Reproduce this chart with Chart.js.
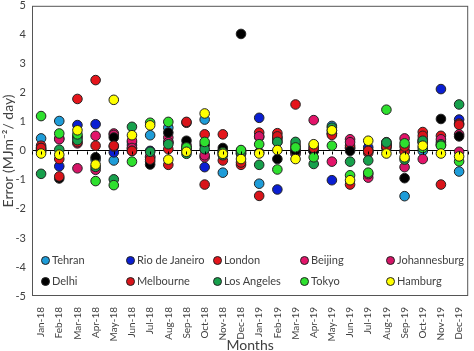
<!DOCTYPE html>
<html>
<head>
<meta charset="utf-8">
<script src="https://cdn.jsdelivr.net/npm/chart.js@4.4.1/dist/chart.umd.min.js"></script>
<style>
  html, body { margin: 0; padding: 0; background: #fff; }
  #wrap { position: relative; width: 474px; height: 351px; }
  #legend { position: absolute; left: 0; top: 0; width: 474px; height: 351px; pointer-events: none;
            font-family: Lato, "Open Sans", sans-serif; font-size: 11px; color: #404040; }
  .item { position: absolute; white-space: nowrap; line-height: 14px; }
  .dot { display: inline-block; width: 7px; height: 7px; border-radius: 50%; border: 1px solid #222;
         vertical-align: -1px; margin-right: 2px; }
</style>
</head>
<body>
<div id="wrap">
  <canvas id="chart" width="474" height="351"></canvas>
  <div id="legend"></div>
</div>
<script>
const months = ['Jan-18', 'Feb-18', 'Mar-18', 'Apr-18', 'May-18', 'Jun-18', 'Jul-18', 'Aug-18',
    'Sep-18', 'Oct-18', 'Nov-18', 'Dec-18', 'Jan-19', 'Feb-19', 'Mar-19', 'Apr-19', 'May-19',
    'Jun-19', 'Jul-19', 'Aug-19', 'Sep-19', 'Oct-19', 'Nov-19', 'Dec-19'];

const cities = ['Tehran', 'Rio de Janeiro', 'London', 'Beijing', 'Johannesburg',
    'Delhi', 'Melbourne', 'Los Angeles', 'Tokyo', 'Hamburg'];
const cityColors = ['#1e9cd8', '#0a1ed2', '#e5151b', '#e3146a', '#d41567',
    '#000000', '#d9141a', '#17a04c', '#2ee02e', '#ffff00'];

// error values (MJ m-2 / day), one array per city, Jan-18 .. Dec-19
const tehran       = [0.43, 1.03, 0.45, -0.3, -0.33, 0.3, 0.54, 0.8, 0.1, 1.08, -0.75, -0.1, -1.13, 0.31, 0.0, 0.0, 0.86, 0.1, 0.0, 0.2, -1.56, 0.0, 0.2, -0.71];
const rio          = [0.0, -0.53, 0.89, 0.92, -0.05, 0.2, 0.0, 0.3, 0.0, -0.56, 0.0, 0.0, 1.14, -1.33, 0.1, 0.0, -1.01, 0.1, 0.12, 0.2, 0.0, 0.3, 2.13, 1.08];
const london       = [0.18, -0.28, 1.79, 2.44, 0.15, 0.09, -0.37, 0.06, 0.97, 0.57, 0.57, -0.48, 0.63, 0.61, 1.6, 0.2, 0.6, 0.18, -0.07, 0.18, -0.03, 0.65, 0.52, 0.94];
const beijing      = [0.05, 0.43, 0.26, 0.52, 0.6, 0.35, -0.22, 0.46, 0.2, -0.22, 0.0, 0.0, 0.48, 0.46, -0.11, 1.06, -0.37, 0.4, -0.92, 0.3, 0.43, -0.28, 0.3, 0.57];
const johannesburg = [0.1, 0.4, -0.6, -0.65, 0.55, 0.1, -0.2, 0.3, 0.1, -0.15, -0.1, -0.1, 0.5, 0.4, -0.05, 0.1, 0.6, 0.3, -0.8, 0.25, -0.56, 0.4, 0.4, -0.03];
const delhi        = [0.0, -0.95, 0.5, -0.22, 0.46, 0.0, -0.47, 0.63, 0.35, 0.2, 0.1, 4.03, -0.05, -0.28, 0.0, 0.0, 0.7, 0.0, 0.0, 0.1, -0.94, 0.3, 1.1, 0.5];
const melbourne    = [0.1, -0.88, 0.3, 0.18, 0.18, 0.0, -0.3, -0.48, 1.0, -1.16, -0.33, -0.4, -1.55, 0.5, 0.2, 0.1, 0.55, -1.16, 0.0, 0.15, 0.15, 0.52, -1.16, 0.9];
const losAngeles   = [-0.79, 0.04, 0.37, -0.55, -0.98, 0.83, -0.03, 0.23, -0.1, 0.06, -0.15, -0.05, -0.48, 0.31, 0.31, -0.45, 0.8, -0.37, -0.33, 0.29, -0.3, 0.35, 0.23, 1.6];
const tokyo        = [1.2, 0.6, 0.57, -1.04, -1.18, -0.37, 0.97, 1.0, 0.12, 0.31, -0.05, 0.03, 0.23, -0.64, 0.12, -0.22, 0.18, -0.84, -0.75, 1.42, 0.26, 0.1, 0.18, -0.36];
const hamburg      = [-0.09, -0.13, 0.71, -0.47, 1.76, 0.54, 0.88, -0.3, -0.03, 1.29, -0.1, -0.28, -0.09, 0.03, -0.28, 0.23, 0.71, -1.01, 0.35, -0.09, -0.22, 0.18, -0.09, -0.19];

const seriesValues = [tehran, rio, london, beijing, johannesburg, delhi, melbourne, losAngeles, tokyo, hamburg];
const yTicks = [-5, -4, -3, -2, -1, 0, 1, 2, 3, 4, 5];

const FONT = 'Lato, "Open Sans", sans-serif';
const TEXT = '#404040';

// box round the plot and little tick marks hanging off the zero line
const framePlugin = {
    id: 'frame',
    afterDatasetsDraw(chart) {
        const { ctx, chartArea: a, scales } = chart;
        ctx.save();
        ctx.strokeStyle = '#555';
        ctx.lineWidth = 1;
        ctx.strokeRect(a.left + 0.5, a.top + 0.5, a.right - a.left - 1, a.bottom - a.top - 1);
        const y0 = Math.round(scales.y.getPixelForValue(0)) + 0.5;
        ctx.strokeStyle = '#000';
        ctx.beginPath();
        for (let i = 0; i <= months.length * 2; i++) {
            const x = Math.round(scales.x.getPixelForValue(i / 2 - 0.5)) + 0.5;
            ctx.moveTo(x, y0);
            ctx.lineTo(x, y0 + 3);
        }
        ctx.stroke();
        ctx.restore();
    }
};

const datasets = cities.map((name, i) => ({
    label: name,
    data: seriesValues[i],
    showLine: false,
    pointStyle: 'circle',
    pointRadius: 4.8,
    pointHoverRadius: 4.8,
    pointBackgroundColor: cityColors[i],
    pointBorderColor: '#222',
    pointBorderWidth: 1,
    order: cities.length - i
}));

new Chart(document.getElementById('chart'), {
    type: 'line',
    data: { labels: months, datasets: datasets },
    plugins: [framePlugin],
    options: {
        responsive: false,
        animation: false,
        layout: { padding: { top: 4, right: 2, left: 0, bottom: 0 } },
        plugins: { legend: { display: false }, tooltip: { enabled: false } },
        scales: {
            x: {
                type: 'category',
                offset: true,
                grid: { display: false },
                border: { display: false },
                ticks: {
                    autoSkip: false, minRotation: 90, maxRotation: 90, padding: 3,
                    color: TEXT, font: { family: FONT, size: 10 }
                },
                title: {
                    display: true, text: 'Months', color: TEXT,
                    font: { family: FONT, size: 14 }, padding: { top: 0, bottom: -3 }
                },
                afterFit(scale) {
                    scale.height = 55;
                    scale.paddingLeft = 0;
                    scale.paddingRight = 0;
                }
            },
            y: {
                min: -5, max: 5,
                afterBuildTicks(scale) { scale.ticks = yTicks.map(v => ({ value: v })); },
                grid: {
                    drawTicks: false,
                    color: c => (c.tick && c.tick.value === 0 ? '#000' : 'rgba(0,0,0,0)'),
                    lineWidth: 1
                },
                border: { display: false },
                ticks: { padding: 6, color: TEXT, font: { family: FONT, size: 11 } },
                title: {
                    display: true, text: 'Error (MJm\u207B\u00B2/ day)', color: TEXT,
                    font: { family: FONT, size: 14 }, padding: { top: 0, bottom: 1 }
                },
                afterFit(scale) {
                    scale.width = 32;
                    scale.paddingTop = 0;
                    scale.paddingBottom = 0;
                }
            }
        }
    }
});

// legend sits inside the plot, two rows of five
const legendEl = document.getElementById('legend');
const colX = [41, 126, 213, 300, 386];
const rowY = [253, 274];
cities.forEach((name, i) => {
    const el = document.createElement('div');
    el.className = 'item';
    el.style.left = colX[i % 5] + 'px';
    el.style.top = rowY[Math.floor(i / 5)] + 'px';
    el.innerHTML = '<span class="dot" style="background:' + cityColors[i] + '"></span>' + name;
    legendEl.appendChild(el);
});
</script>
</body>
</html>
